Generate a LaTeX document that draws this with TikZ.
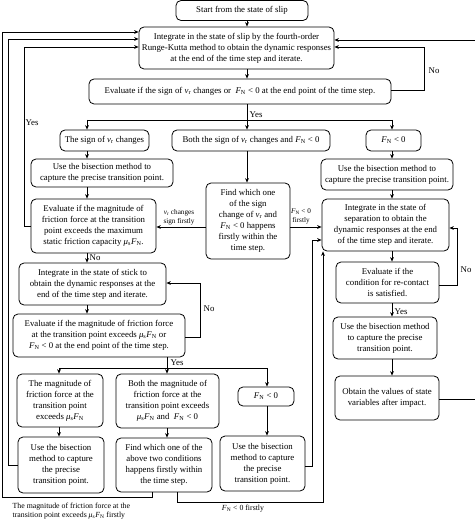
\documentclass[tikz,border=0pt]{standalone}
\usepackage{fontspec}
\setmainfont{Liberation Serif}
\usetikzlibrary{arrows.meta}
\newcommand{\myvr}{\textit{v}\textsubscript{r}}
\newcommand{\myFN}{\textit{F}\textsubscript{N}}
\newcommand{\mymus}{\textit{μ}\textsubscript{s}}
\newcommand{\mylt}{~<~0}
\tikzset{
  box/.style={draw, rounded corners=5pt, line width=0.8pt, align=center, inner sep=1pt,
    font=\fontsize{8.8}{11}\selectfont},
  arr/.style={-{Stealth[length=4.5pt,width=3.8pt]}, line width=0.8pt},
  ln/.style={line width=0.8pt},
  lbl/.style={font=\fontsize{8.8}{10}\selectfont, inner sep=0.5pt},
  slbl/.style={font=\fontsize{7.2}{8.8}\selectfont, inner sep=0.5pt, align=center},
  blbl/.style={font=\fontsize{7.8}{8.6}\selectfont, inner sep=0.5pt, align=left},
}
\begin{document}
\begin{tikzpicture}[x=1pt,y=-1pt]
\useasboundingbox (0,0) rectangle (474,521);
\fill[white] (0,0) rectangle (474,521);

% ---- nodes
\node[box, minimum width=132, minimum height=20] (start) at (242,10.5) {Start from the state of slip};
\node[box, minimum width=195, minimum height=42] (slipint) at (236.5,48)
  {Integrate in the state of slip by the fourth-order\\Runge-Kutta method to obtain the dynamic responses\\at the end of the time step and iterate.};
\node[box, minimum width=302, minimum height=25] (evalsign) at (240,91.5)
  {Evaluate if the sign of \myvr{} changes or \ \myFN\mylt{} at the end point of the time step.};
\node[box, minimum width=89, minimum height=21] (signvr) at (104.5,140.5) {The sign of \myvr{} changes};
\node[box, minimum width=158, minimum height=21] (both) at (251,140.5) {Both the sign of \myvr{} changes and \myFN\mylt};
\node[box, minimum width=55, minimum height=21] (fn) at (393.5,140.5) {\myFN\mylt};
\node[box, minimum width=142, minimum height=28] (bisL) at (102,173)
  {Use the bisection method to\\capture the precise transition point.};
\node[box, minimum width=132, minimum height=31] (bisR) at (387,174.5)
  {Use the bisection method to\\capture the precise transition point.};
\node[box, minimum width=125, minimum height=54] (evalmag) at (93.5,226)
  {Evaluate if the magnitude of\\friction force at the transition\\point exceeds the maximum\\static friction capacity \mymus\myFN.};
\node[box, minimum width=84, minimum height=76] (findA) at (248,221)
  {Find which one\\of the sign\\change of \myvr{} and\\\myFN\mylt{} happens\\firstly within the\\time step.};
\node[box, minimum width=127, minimum height=52] (sep) at (385.5,225)
  {Integrate in the state of\\separation to obtain the\\dynamic responses at the end\\of the time step and iterate.};
\node[box, minimum width=147, minimum height=42] (stick) at (92.5,284)
  {Integrate in the state of stick to\\obtain the dynamic responses at the\\end of the time step and iterate.};
\node[box, minimum width=172, minimum height=43] (evalstick) at (99,335.5)
  {Evaluate if the magnitude of friction force\\at the transition point exceeds \mymus\myFN{} or\\\myFN\mylt{} at the end point of the time step.};
\node[box, minimum width=103, minimum height=41] (recon) at (387.5,282.5)
  {Evaluate if the\\condition for re-contact\\is satisfied.};
\node[box, minimum width=104, minimum height=42] (bisS) at (385,338)
  {Use the bisection method\\to capture the precise\\transition point.};
\node[box, minimum width=104, minimum height=44] (obtain) at (387,398)
  {Obtain the values of state\\variables after impact.};
\node[box, minimum width=86, minimum height=53] (magex) at (60,400.5)
  {The magnitude of\\friction force at the\\transition point\\exceeds \mymus\myFN};
\node[box, minimum width=103, minimum height=54] (bothmag) at (167.5,401)
  {Both the magnitude of\\friction force at the\\transition point exceeds\\\mymus\myFN{} and \ \myFN\mylt};
\node[box, minimum width=56, minimum height=19] (fn2) at (266,396.5) {\myFN\mylt};
\node[box, minimum width=86, minimum height=56] (bisB1) at (61,465)
  {Use the bisection\\method to capture\\the precise\\transition point.};
\node[box, minimum width=96, minimum height=54] (findB) at (164,465)
  {Find which one of the\\above two conditions\\happens firstly within\\the time step.};
\node[box, minimum width=85, minimum height=55] (bisB2) at (262.5,463.5)
  {Use the bisection\\method to capture\\the precise\\transition point.};

% ---- helper coordinates
\coordinate (cA) at (87,0);
\coordinate (cM) at (247,0);
\coordinate (cR) at (392,0);
\coordinate (yY) at (0,120);
\coordinate (b1) at (424,90);  \coordinate (b2) at (424,47);
\coordinate (r1) at (477,399); \coordinate (r2) at (477,40);
\coordinate (l1) at (24,226);  \coordinate (l2) at (24,47);
\coordinate (m1) at (8,465);   \coordinate (m2) at (8,39);
\coordinate (n1) at (152,497); \coordinate (n2) at (2,497); \coordinate (n3) at (2,32);
\coordinate (p1) at (177,502); \coordinate (p2) at (323,502);
\coordinate (q1) at (312,466); \coordinate (q2) at (312,240);
\coordinate (a1) at (0,227);
\coordinate (s1) at (457,285); \coordinate (s2) at (457,228);
\coordinate (t1) at (200,337); \coordinate (t2) at (200,283);
\coordinate (u)  at (167,368); \coordinate (uL) at (59,368); \coordinate (uR) at (267,368);

% ---- main column
\draw[arr] (start.south -| cM) -- (slipint.north -| cM);
\draw[arr] (slipint.south -| cM) -- (evalsign.north -| cM);
\draw[ln] (evalsign.south -| cM) -- (cM |- yY);
\draw[ln] (cA |- yY) -- (cR |- yY);
\draw[arr] (cA |- yY) -- (signvr.north -| cA);
\draw[arr] (cM |- yY) -- (both.north -| cM);
\draw[arr] (cR |- yY) -- (fn.north -| cR);
\draw[arr] (both.south -| cM) -- (findA.north -| cM);

% ---- loops to slip integration
\draw[arr] (evalsign.east |- b1) -- (b1) -- (b2) -- (slipint.east |- b2);
\draw[arr] (obtain.east |- r1) -- (r1) -- (r2) -- (slipint.east |- r2);
\draw[arr] (evalmag.west |- l1) -- (l1) -- (l2) -- (slipint.west |- l2);
\draw[arr] (bisB1.west |- m1) -- (m1) -- (m2) -- (slipint.west |- m2);
\draw[arr] (findB.south -| n1) -- (n1) -- (n2) -- (n3) -- (slipint.west |- n3);

% ---- left column
\draw[arr] (signvr.south -| cA) -- (bisL.north -| cA);
\draw[arr] (bisL.south -| cA) -- (evalmag.north -| cA);
\draw[arr] (evalmag.south -| cA) -- (stick.north -| cA);
\draw[arr] (stick.south -| cA) -- (evalstick.north -| cA);
\draw[arr] (evalstick.east |- t1) -- (t1) -- (t2) -- (stick.east |- t2);
\draw[ln] (evalstick.south -| u) -- (u);
\draw[ln] (uL) -- (uR);
\draw[arr] (uL) -- (magex.north -| uL);
\draw[arr] (u) -- (bothmag.north -| u);
\draw[arr] (uR) -- (fn2.north -| uR);
\draw[arr] (magex.south -| uL) -- (bisB1.north -| uL);
\draw[arr] (bothmag.south -| u) -- (findB.north -| u);
\draw[arr] (fn2.south -| uR) -- (bisB2.north -| uR);

% ---- find A branches
\draw[arr] (findA.west |- a1) -- (evalmag.east |- a1);
\draw[arr] (findA.east |- a1) -- (sep.west |- a1);

% ---- right column
\draw[arr] (fn.south -| cR) -- (bisR.north -| cR);
\draw[arr] (bisR.south -| cR) -- (sep.north -| cR);
\draw[arr] (sep.south -| cR) -- (recon.north -| cR);
\draw[arr] (recon.south -| cR) -- (bisS.north -| cR);
\draw[arr] (bisS.south -| cR) -- (obtain.north -| cR);
\draw[arr] (recon.east |- s1) -- (s1) -- (s2) -- (sep.east |- s2);
\draw[arr] (findB.south -| p1) -- (p1) -- (p2) -- (sep.south -| p2);
\draw[arr] (bisB2.east |- q1) -- (q1) -- (q2) -- (sep.west |- q2);

% ---- labels
\node[lbl, anchor=west] (lyes1) at (249,115) {Yes};
\node[lbl, anchor=west] (lyes2) at (25,123) {Yes};
\node[lbl, anchor=west] (lno1) at (428,71) {No};
\node[lbl, anchor=west] (lno2) at (89,258) {No};
\node[lbl, anchor=west] (lno3) at (203,309) {No};
\node[lbl, anchor=west] (lyes3) at (170,363) {Yes};
\node[lbl, anchor=west] (lno4) at (460,270) {No};
\node[lbl, anchor=west] (lyes4) at (394,312) {Yes};
\node[slbl] (lvr) at (179,217) {\myvr{} changes\\sign firstly};
\node[slbl] (lfn) at (301,216) {\myFN\mylt\\firstly};
\node[blbl, anchor=north west] (lbot1) at (12,502.5)
  {The magnitude of friction force at the\\transition point exceeds \mymus\myFN{} firstly};
\node[blbl] (lbot2) at (243,508.5) {\myFN\mylt{} firstly};
\end{tikzpicture}
\end{document}
